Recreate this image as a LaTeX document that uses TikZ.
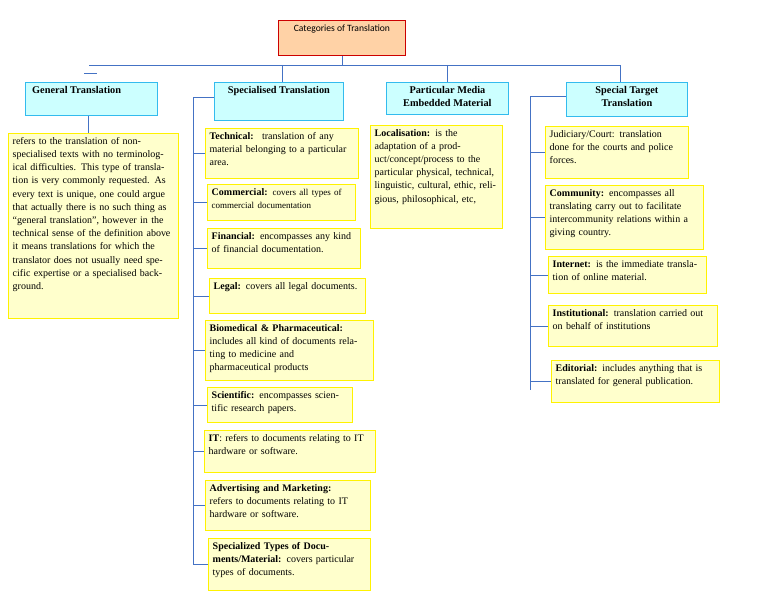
\documentclass[tikz,border=0pt]{standalone}
\usepackage{fontspec}
\setmainfont{Liberation Serif}
\setsansfont{Carlito}
\definecolor{ybord}{HTML}{FFF200}
\definecolor{yfill}{HTML}{FFFFCC}
\definecolor{cbord}{HTML}{33BBEE}
\definecolor{cfill}{HTML}{CCFFFF}
\definecolor{lcol}{HTML}{4472C4}
\begin{document}
\begin{tikzpicture}[x=1pt,y=-1pt,
  yb/.style={draw=ybord,fill=yfill,line width=1pt,anchor=north west,inner sep=0pt},
  yt/.style={anchor=north west,inner sep=0pt,align=left,font=\fontsize{10}{13.2}\selectfont},
  hd/.style={draw=cbord,fill=cfill,line width=0.8pt,anchor=north west,inner sep=0pt},
  ht/.style={anchor=north,inner sep=0pt,align=center,font=\bfseries\fontsize{10.3}{13.5}\selectfont},
  ln/.style={draw=lcol,line width=0.5pt}]
\useasboundingbox (0,0) rectangle (768,594);
\newcommand\ybox[6]{\node[yb,minimum width=#3,minimum height=#4] (#5) at (#1,#2) {};
  \node[yt,text width=#3-9pt] (#5t) at ([xshift=4.5pt,yshift=-4pt]#5.north west) {#6};}
\newcommand\headbox[6]{\node[hd,minimum width=#3,minimum height=#4] (#5) at (#1,#2) {};
  \node[ht] (#5t) at ([yshift=-4pt]#5.north) {#6};}
\node[draw=red!80!black,fill=orange!35!white,line width=0.8pt,anchor=north west,minimum width=127,minimum height=35,inner sep=0pt] (title) at (278,20) {};
\node[anchor=north,inner sep=0pt,font=\sffamily\fontsize{9.6}{11}\selectfont] (titlet) at ([yshift=-5pt]title.north) {Categories of Translation};
\node[hd,minimum width=132,minimum height=33] (gen) at (25,82) {};
\node[anchor=north west,inner sep=0pt,font=\bfseries\fontsize{10.3}{13.5}\selectfont] (gent) at (32,86) {General Translation};
\headbox{214}{82}{129}{38}{spec}{Specialised Translation}
\headbox{386}{82}{122}{32}{pm}{Particular Media\\Embedded Material}
\headbox{566}{82}{121}{34}{st}{Special Target\\Translation}
% connectors
\coordinate (hl) at (89,65); \coordinate (hr) at (620,65);
\coordinate (hs1) at (84,73); \coordinate (hs2) at (97,73);
\draw[ln] (title.south) -- (title.south |- hl);
\draw[ln] (hl) -- (hr);
\draw[ln] (hs1) -- (hs2);
\draw[ln] (282,65) -- (282,82);
\draw[ln] (pm.north |- hl) -- (pm.north);
\draw[ln] (hr) -- (st.north -| hr);
% general
\ybox{8}{133}{170}{185}{gtx}{refers to the translation of non-specialised texts with no terminological difficulties. This type of translation is very commonly requested. As every text is unique, one could argue that actually there is no such thing as ``general translation'', however in the technical sense of the definition above it means translations for which the translator does not usually need specific expertise or a specialised background.}
\draw[ln] (gen.south -| 88,0) -- (gtx.north -| 88,0);
% specialised
\ybox{205}{128}{153}{50}{s1}{\textbf{Technical:} \ translation of any material belonging to a particular area.}
\ybox{207}{184}{148}{36}{s2}{\textbf{Commercial:} {\fontsize{9}{12}\selectfont covers all types of commercial documentation}}
\ybox{207}{228}{153}{40}{s3}{\textbf{Financial:} encompasses any kind of financial documentation.}
\ybox{209}{278}{156}{35}{s4}{\textbf{Legal:} covers all legal documents.}
\ybox{205}{320}{168}{60}{s5}{\textbf{Biomedical \& Pharmaceutical:}\\ includes all kind of documents rela-\\ting to medicine and\\ pharmaceutical products}
\ybox{207}{387}{145}{35}{s6}{\textbf{Scientific:} encompasses scientific research papers.}
\ybox{204}{430}{171}{42}{s7}{\textbf{IT}: refers to documents relating to IT hardware or software.}
\ybox{205}{480}{165}{50}{s8}{\textbf{Advertising and Marketing:}\\ refers to documents relating to IT hardware or software.}
\ybox{208}{538}{162}{52}{s9}{\textbf{Specialized Types of Documents/Material:} covers particular types of documents.}
\coordinate (sp1) at (193,97); \coordinate (sp2) at (193,565);
\draw[ln] (sp1) -- (sp2);
\draw[ln] (sp1) -- (spec.west |- sp1);
\foreach \b in {s1,s2,s3,s4,s5,s6,s7,s8,s9} \draw[ln] (sp1 |- \b.west) -- (\b.west);
% PM
\ybox{370}{125}{132}{103}{p1}{\textbf{Localisation:} is the adaptation of a product/concept/process to the particular physical, technical, linguistic, cultural, ethic, religious, philosophical, etc,}
% ST
\ybox{545}{126}{143}{52}{t1}{Judiciary/Court: translation done for the courts and police forces.}
\ybox{545}{185}{158}{64}{t2}{\textbf{Community:} encompasses all translating carry out to facilitate intercommunity relations within a giving country.}
\ybox{548}{256}{158}{37}{t3}{\textbf{Internet:} is the immediate translation of online material.}
\ybox{548}{305}{169}{41}{t4}{\textbf{Institutional:} translation carried out on behalf of institutions}
\ybox{551}{360}{168}{42}{t5}{\textbf{Editorial:} includes anything that is translated for general publication.}
\coordinate (tp1) at (530,96); \coordinate (tp2) at (530,390);
\draw[ln] (tp1) -- (tp2);
\draw[ln] (tp1) -- (st.west |- tp1);
\foreach \b in {t1,t2,t3,t4,t5} \draw[ln] (tp1 |- \b.west) -- (\b.west);
\end{tikzpicture}
\end{document}
